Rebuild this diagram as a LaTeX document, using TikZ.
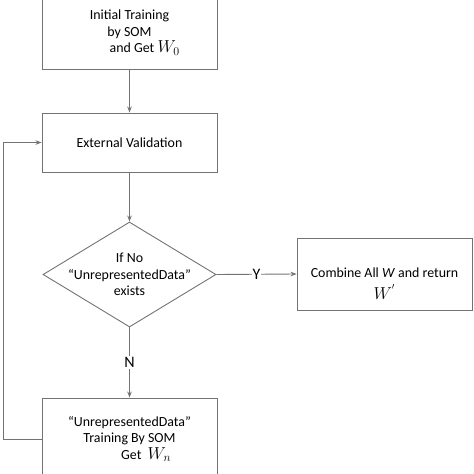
\documentclass[tikz,border=0pt]{standalone}
\usepackage{fontspec}
\setmainfont{Carlito}
\usetikzlibrary{shapes.geometric,arrows.meta}
\newcommand{\bigW}[1]{{\fontsize{17}{17}\selectfont$#1$}}
\begin{document}
\begin{tikzpicture}[x=1pt,y=-1pt,
  every node/.style={font=\fontsize{13.9}{16.5}\selectfont, text=black},
  box/.style={draw=black!55, line width=0.9pt, minimum width=175pt, inner sep=0pt, align=center},
  dec/.style={diamond, draw=black!55, line width=0.9pt, minimum width=173pt, minimum height=105pt, inner sep=0pt},
  flow/.style={draw=black!55, line width=0.9pt, -{Stealth[length=6pt,width=4.5pt]}},
  lbl/.style={fill=white, inner sep=1pt, font=\fontsize{16}{18}\selectfont}
]
\useasboundingbox (0,0) rectangle (474,474);
\clip (0,0) rectangle (474,474);
\node[box, minimum height=73pt] (init) at (129.5,32.5) {Initial Training\\by SOM\\\hspace*{2.2em}and Get \bigW{W_0}};
\node[box, minimum height=59pt] (ext) at (129.5,142.5) {External Validation};
\node[dec] (cond) at (129.5,274.5) {};
\node[align=center, inner sep=0pt] (condtext) at (cond.center) {If No\\``UnrepresentedData''\\exists};
\node[box, minimum height=72pt] (comb) at (384.5,274) {};
\node[inner sep=0pt] (combline) at ([yshift=1pt]comb.center) {Combine All \textit{W} and return};
\node[inner sep=0pt] (combw) at ([yshift=-18pt]comb.center) {\fontsize{18}{18}\selectfont$W^{'}$};
\node[box, minimum height=82pt] (unrep) at (129.5,439) {``UnrepresentedData''\\Training By SOM\\\hspace*{2.4em}Get \ \bigW{W_n}};
\coordinate (loopx) at (3,0);
\draw[flow] (init) -- (ext);
\draw[flow] (ext) -- (cond);
\draw[flow] (cond.east) -- node[lbl] (ylab) {Y} (comb.west);
\draw[flow] (cond.south) -- node[lbl] (nlab) {N} (unrep.north);
\draw[flow] (unrep.west) -- (unrep.west -| loopx) |- (ext.west);
\end{tikzpicture}
\end{document}
